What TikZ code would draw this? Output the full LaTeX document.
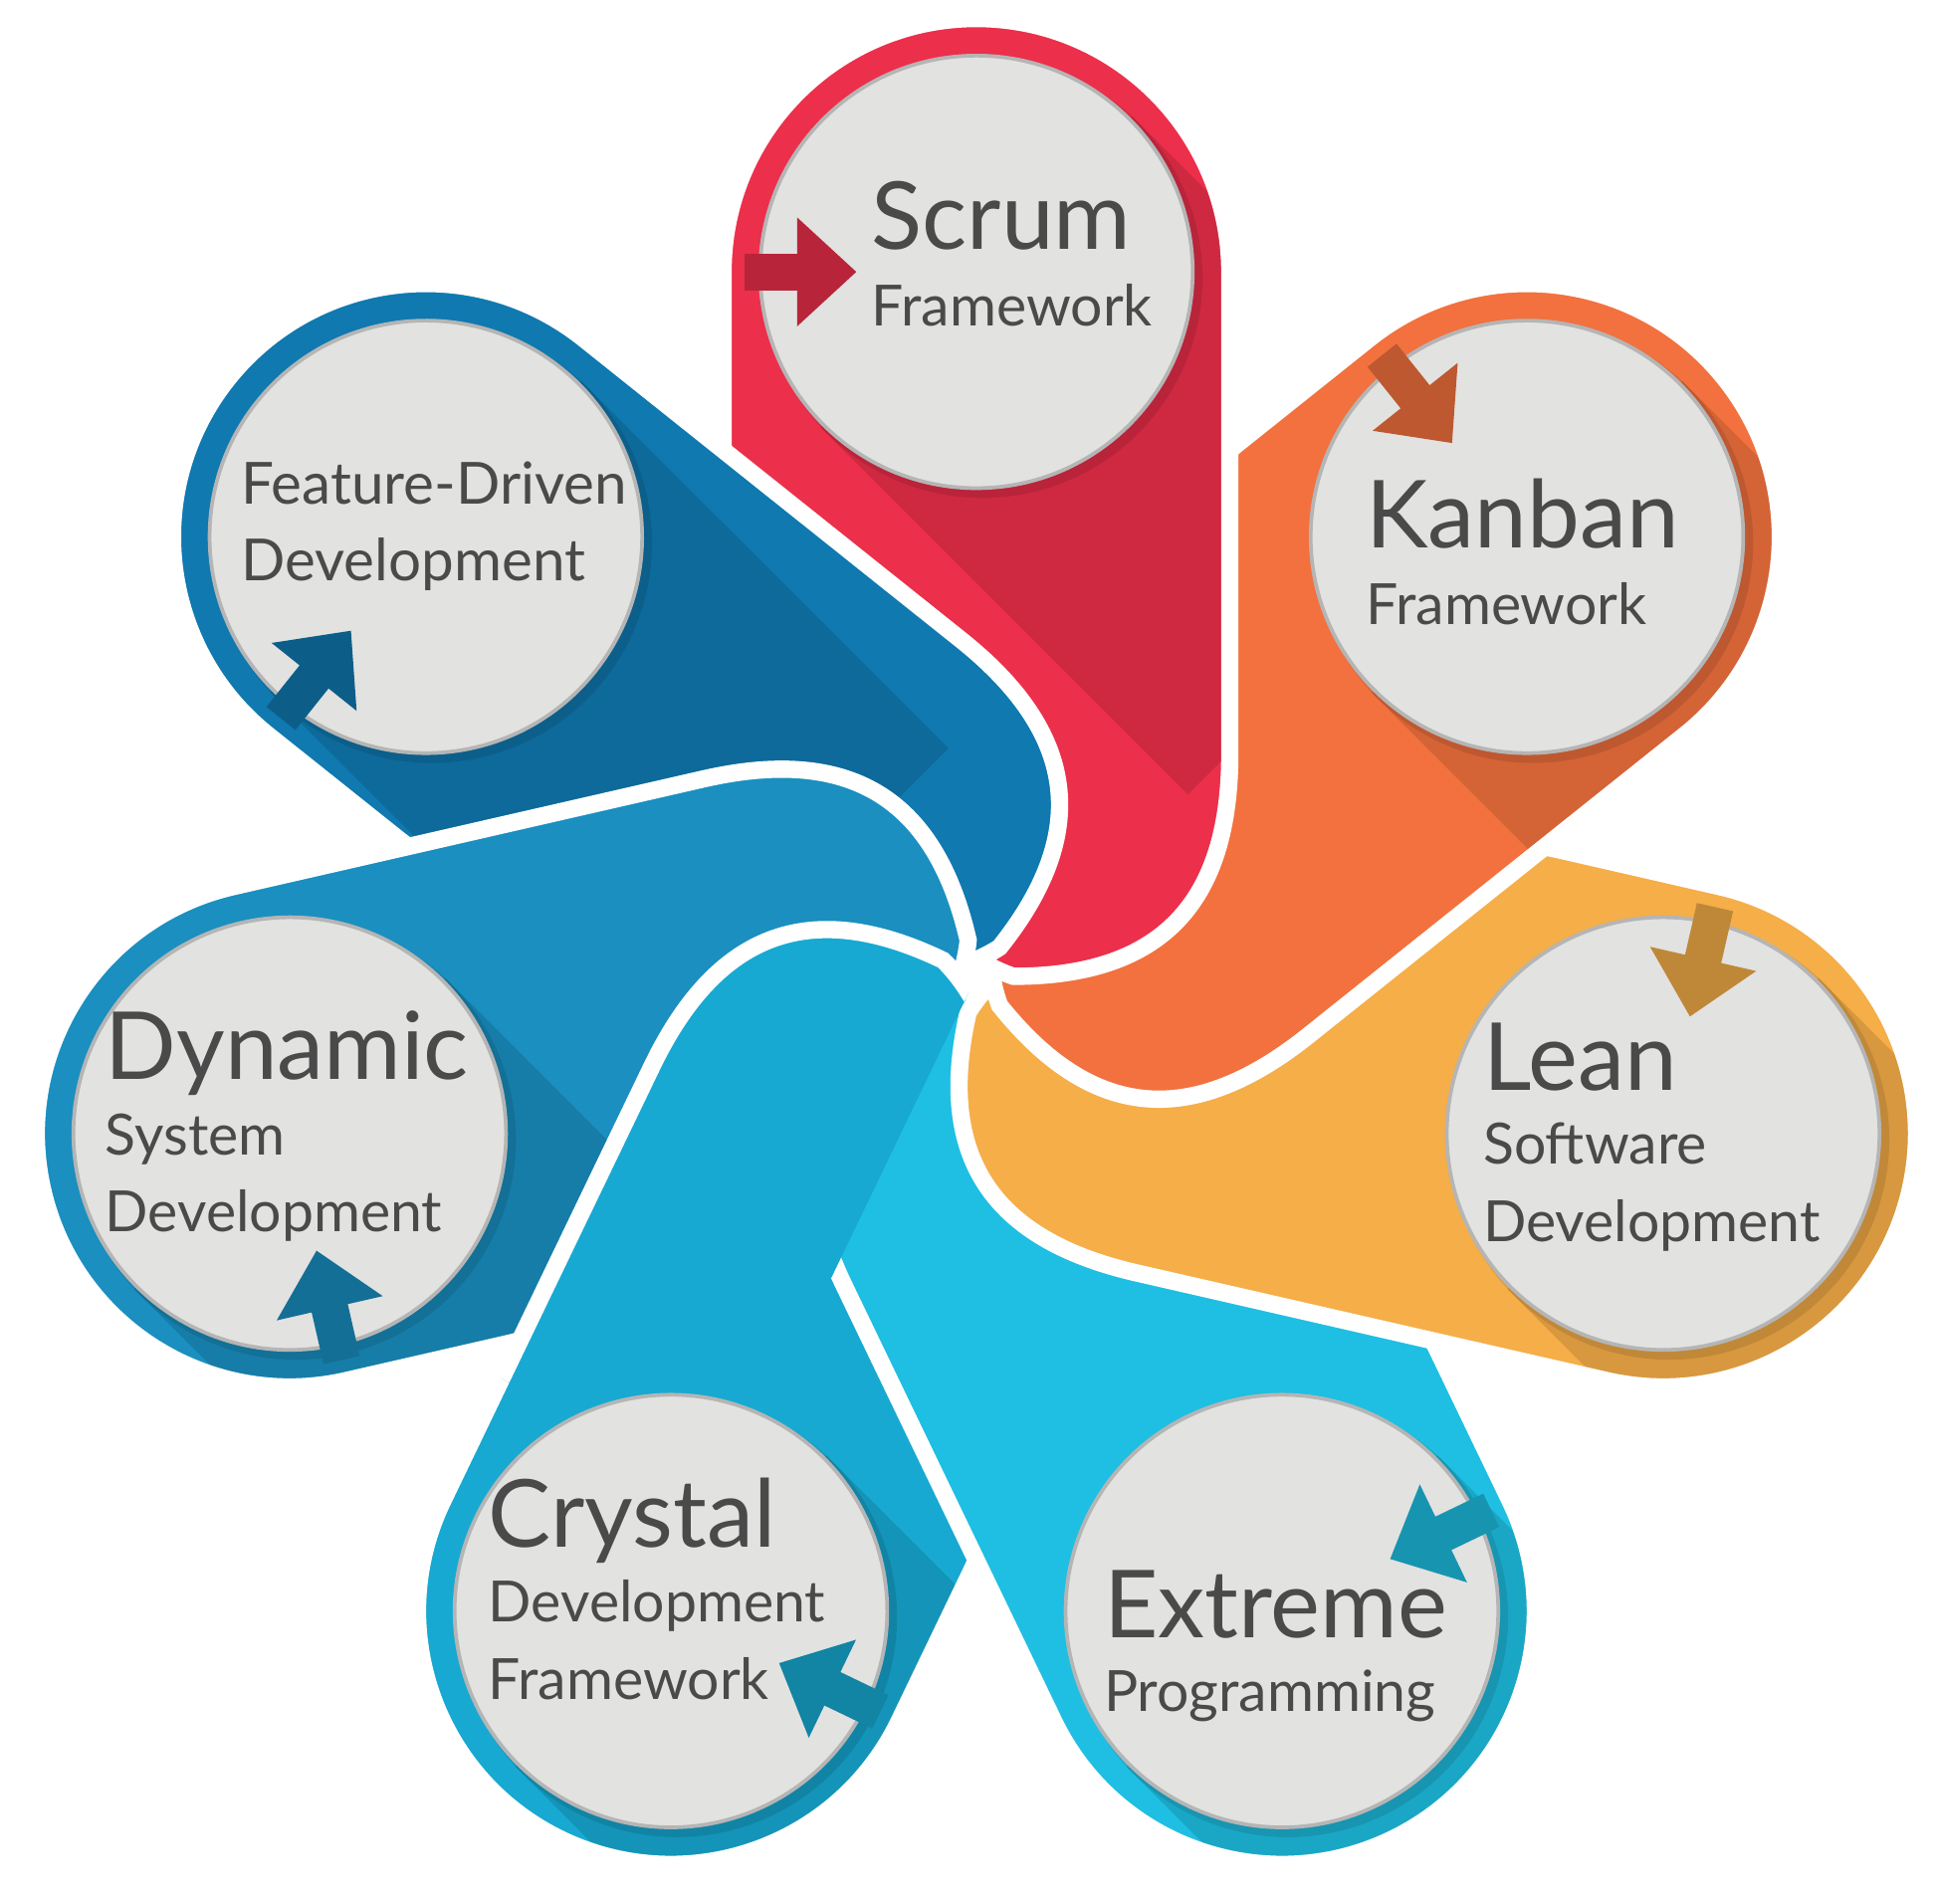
\documentclass[tikz,border=0pt]{standalone}
\usepackage{fontspec}
\setmainfont{Lato}
\usetikzlibrary{calc,arrows.meta}
\definecolor{txt}{HTML}{4A4A4A}
\definecolor{grey}{HTML}{E2E2E0}
\definecolor{ring}{HTML}{B5B5B5}
\definecolor{cScrum}{HTML}{EC2F4B}
\definecolor{cKanban}{HTML}{F2713E}
\definecolor{cLean}{HTML}{F5AE48}
\definecolor{cXP}{HTML}{1EBFE2}
\definecolor{cCrystal}{HTML}{17A9D2}
\definecolor{cDyn}{HTML}{1A8FC0}
\definecolor{cFDD}{HTML}{0F79B0}
\newcommand\petalpath{(30,0) .. controls (150,0) and (205,60) .. (205,180) -- (205,570) arc[start angle=0,end angle=180,radius=205] -- (-205,437) .. controls (-205,300) and (-90,40) .. (30,0) -- cycle}
\newcommand\petalband[1]{%
 \fill[#1] \petalpath;
 \begin{scope}
  \clip \petalpath;
  \fill[black,opacity=.12] ($(0,570)+(\dd+90:178)$) -- ++(\dd:420) -- ($(0,570)+(\dd-90:178)+(\dd:420)$) -- ($(0,570)+(\dd-90:178)$) -- cycle;
 \end{scope}
 \draw[white,line width=14pt] \petalpath;}
\newcommand\petal[2]{%
\pgfmathsetmacro\rot{#1-90}%
\pgfmathsetmacro\dd{-45-\rot}%
\begin{scope}[shift={(790,750)},rotate=\rot]
 \petalband{#2}
 \fill[black,opacity=.10] ($(0,570)+(\dd:7)$) circle[radius=178];
 \filldraw[fill=grey,draw=ring,line width=3pt] (0,570) circle[radius=175];
 \draw[#2!78!black,line width=30pt,-{Triangle[length=48pt,width=85pt]}] (-188,570) -- (-97,570);
\end{scope}}
\tikzset{
 ttl/.style={anchor=base west,inner sep=0pt,text=txt,font=\fontsize{76}{80}\selectfont},
 sub/.style={anchor=base west,inner sep=0pt,text=txt,font=\fontsize{46}{50}\selectfont},
 fdd/.style={anchor=base west,inner sep=0pt,text=txt,font=\fontsize{47}{50}\selectfont}}
\begin{document}
\begin{tikzpicture}[x=1pt,y=1pt]
\useasboundingbox[fill=white] (0,0) rectangle (1568,1540);
\petal{-115.7}{cCrystal}
\node[ttl] (c1) at (395,288) {Crystal};
\node[sub] (c2) at (395,228) {Development};
\node[sub] (c3) at (395,165) {Framework};
\petal{-64.3}{cXP}
\node[ttl] (e1) at (893,215) {Extreme};
\node[sub] (e2) at (893,155) {Programming};
\petal{-12.9}{cLean}
\node[ttl] (l1) at (1200,658) {Lean};
\node[sub] (l2) at (1200,598) {Software};
\node[sub] (l3) at (1200,535) {Development};
\petal{38.6}{cKanban}
\node[ttl] (k1) at (1105,1097) {Kanban};
\node[sub] (k2) at (1105,1035) {Framework};
\petal{90}{cScrum}
\node[ttl] (s1) at (705,1338) {Scrum};
\node[sub] (s2) at (705,1276) {Framework};
\petal{141.4}{cFDD}
\node[fdd] (f1) at (195,1132) {Feature-Driven};
\node[fdd] (f2) at (195,1070) {Development};
\petal{-167.1}{cDyn}
\node[ttl] (d1) at (85,667) {Dynamic};
\node[sub] (d2) at (85,605) {System};
\node[sub] (d3) at (85,543) {Development};
% Crystal's right side lies over Dynamic
\pgfmathsetmacro\rot{-205.7}%
\pgfmathsetmacro\dd{-45-\rot}%
\begin{scope}[shift={(790,750)},rotate=\rot]
 \clip (0,-60) -- (320,-60) -- (320,460) -- (155,460) -- (155,385) -- (0,385) -- cycle;
 \petalband{cCrystal}
\end{scope}
\end{tikzpicture}
\end{document}
